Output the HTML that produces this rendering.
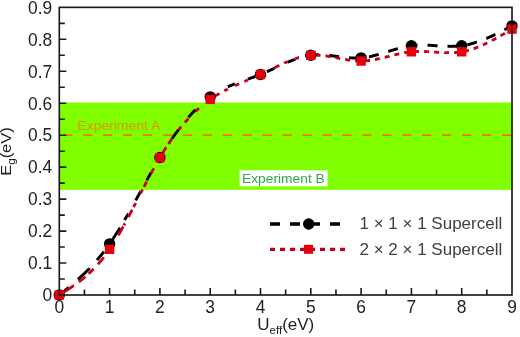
<!DOCTYPE html>
<html><head><meta charset="utf-8"><style>
html,body{margin:0;padding:0;background:#fff;}
svg{display:block;font-family:"Liberation Sans",Arial,sans-serif;}
</style></head><body>
<svg width="520" height="337" viewBox="0 0 520 337">
<rect width="520" height="337" fill="#fff"/>
<rect x="59.30" y="102.44" width="452.70" height="87.41" fill="#80ff00"/>
<line x1="59.30" y1="135.20" x2="512.00" y2="135.20" stroke="#f07800" stroke-width="1.8" stroke-dasharray="9.2 10.75" stroke-dashoffset="16.2"/>
<text x="77.2" y="129.8" font-size="13.6" fill="#e09400" transform="translate(77.2 0) scale(1.03 1) translate(-77.2 0)">Experiment A</text>
<rect x="239.5" y="170.3" width="88" height="16" fill="#ffffff"/>
<text x="242" y="183.2" font-size="13.4" fill="#33a648" transform="translate(242 0) scale(1.03 1) translate(-242 0)">Experiment B</text>
<path d="M59.3,295.0 L59.6,294.8 L59.9,294.5 L60.2,294.3 L60.5,294.0 L60.8,293.8 L61.1,293.5 L61.4,293.3 L61.7,293.0 L62.0,292.8 L62.3,292.6 L62.6,292.3 L62.9,292.1 L63.2,291.8 L63.5,291.6 L63.8,291.3 L64.1,291.1 L64.4,290.8 L64.7,290.6 L65.0,290.4 L65.3,290.1 L65.6,289.9 L65.9,289.6 L66.2,289.4 L66.5,289.1 L66.8,288.9 L67.1,288.6 L67.4,288.4 L67.8,288.1 L68.1,287.9 L68.4,287.6 L68.7,287.4 L68.8,287.3 M77.9,279.4 L78.2,279.2 L78.5,278.9 L78.8,278.6 L79.1,278.3 L79.4,278.1 L79.7,277.8 L80.0,277.5 L80.3,277.2 L80.6,277.0 L80.9,276.7 L81.2,276.4 L81.5,276.1 L81.8,275.8 L82.1,275.6 L82.4,275.3 L82.7,275.0 L83.0,274.7 L83.3,274.4 L83.6,274.1 L83.9,273.9 L84.2,273.6 L84.6,273.3 L84.9,273.0 L85.2,272.7 L85.5,272.4 L85.8,272.1 L86.1,271.8 L86.4,271.5 L86.7,271.2 L87.0,270.9 L87.3,270.6 L87.6,270.3 L87.9,270.0 L88.2,269.7 L88.5,269.4 L88.8,269.1 L89.1,268.8 L89.4,268.5 L89.6,268.2 M97.0,260.1 L97.3,259.7 L97.6,259.4 L97.9,259.0 L98.2,258.7 L98.5,258.3 L98.8,258.0 L99.1,257.6 L99.4,257.2 L99.7,256.9 L100.0,256.5 L100.3,256.1 L100.6,255.8 L100.9,255.4 L101.3,255.0 L101.6,254.6 L101.9,254.3 L102.2,253.9 L102.5,253.5 L102.8,253.1 L103.1,252.7 L103.4,252.3 L103.7,252.0 L104.0,251.6 L104.0,251.6 M112.0,240.3 L112.3,239.9 L112.6,239.4 L112.9,239.0 L113.2,238.5 L113.5,238.1 L113.8,237.6 L114.1,237.1 L114.4,236.7 L114.7,236.2 L115.0,235.7 L115.3,235.3 L115.6,234.8 L115.9,234.3 L116.2,233.8 L116.5,233.4 L116.8,232.9 L117.1,232.4 L117.4,231.9 L117.7,231.4 L118.1,230.9 L118.4,230.5 L118.7,230.0 L119.0,229.5 L119.3,229.0 L119.6,228.5 L119.9,228.0 L120.1,227.7 M124.5,220.1 L124.8,219.6 L125.1,219.1 L125.4,218.6 L125.7,218.0 L126.0,217.5 L126.3,217.0 L126.7,216.5 L127.0,215.9 L127.3,215.4 L127.6,214.9 L127.9,214.4 L128.2,213.8 L128.3,213.7 M135.7,200.4 L136.0,199.8 L136.3,199.3 L136.6,198.7 L136.9,198.2 L137.2,197.6 L137.5,197.1 L137.8,196.5 L138.1,196.0 L138.4,195.5 L138.7,194.9 L139.0,194.4 L139.3,193.8 L139.6,193.3 L139.9,192.7 L140.2,192.2 L140.5,191.6 L140.6,191.5 M146.8,180.3 L147.1,179.7 L147.4,179.2 L147.7,178.6 L148.0,178.1 L148.3,177.6 L148.6,177.0 L148.9,176.5 L149.2,176.0 L149.5,175.4 L149.8,174.9 L150.1,174.3 L150.4,173.8 L150.7,173.3 L151.0,172.8 M172.0,138.8 L172.3,138.3 L172.6,137.9 L172.9,137.5 L173.2,137.0 L173.5,136.6 L173.8,136.2 L174.1,135.7 L174.4,135.3 L174.7,134.9 L175.0,134.5 L175.3,134.0 L175.6,133.6 L175.9,133.2 L176.2,132.8 L176.5,132.4 L176.9,132.0 L177.2,131.5 L177.5,131.1 L177.8,130.7 L178.1,130.3 L178.4,129.9 L178.4,129.9 M188.4,117.4 L188.7,117.0 L189.0,116.7 L189.3,116.3 L189.6,116.0 L189.9,115.7 L190.2,115.3 L190.5,115.0 L190.8,114.6 L191.1,114.3 L191.4,114.0 L191.7,113.7 L192.0,113.3 L192.3,113.0 L192.6,112.7 L192.9,112.3 L193.2,112.0 L193.6,111.7 L193.9,111.4 L194.2,111.1 L194.5,110.8 L194.8,110.4 L195.1,110.1 L195.4,109.8 L195.5,109.7 M227.8,86.8 L228.1,86.7 L228.4,86.5 L228.7,86.4 L229.0,86.3 L229.3,86.1 L229.6,86.0 L229.9,85.9 L230.2,85.7 L230.5,85.6 L230.8,85.5 L231.1,85.4 L231.4,85.2 L231.7,85.1 L232.0,85.0 L232.3,84.9 L232.6,84.7 L232.9,84.6 L233.2,84.5 L233.5,84.4 L233.8,84.3 L234.1,84.1 L234.4,84.0 L234.7,83.9 L234.9,83.8 M248.0,79.1 L248.3,79.0 L248.6,78.9 L248.9,78.8 L249.2,78.7 L249.5,78.6 L249.8,78.5 L250.1,78.4 L250.4,78.3 L250.7,78.1 L251.0,78.0 L251.3,77.9 L251.6,77.8 L251.9,77.7 L252.3,77.6 L252.6,77.5 L252.9,77.4 L253.2,77.3 L253.5,77.2 L253.8,77.1 L254.1,77.0 L254.4,76.8 L254.7,76.7 L255.0,76.6 L255.1,76.6 M266.9,71.7 L267.2,71.6 L267.5,71.4 L267.8,71.3 L268.1,71.2 L268.4,71.0 L268.7,70.9 L269.1,70.8 L269.4,70.6 L269.7,70.5 L270.0,70.3 L270.3,70.2 L270.6,70.1 L270.9,69.9 L271.2,69.8 L271.5,69.6 L271.8,69.5 L272.1,69.4 L272.4,69.2 L272.7,69.1 L273.0,68.9 L273.3,68.8 L273.6,68.7 L273.9,68.5 L274.2,68.4 L274.5,68.2 L274.6,68.2 M287.7,62.2 L288.0,62.1 L288.3,62.0 L288.6,61.8 L288.9,61.7 L289.2,61.6 L289.5,61.5 L289.8,61.3 L290.1,61.2 L290.4,61.1 L290.7,61.0 L291.0,60.9 L291.3,60.7 L291.6,60.6 L291.9,60.5 L292.2,60.4 L292.5,60.3 L292.8,60.1 L293.1,60.0 L293.4,59.9 L293.7,59.8 L294.1,59.7 L294.4,59.6 L294.7,59.5 L294.8,59.4 M309.3,55.5 L309.6,55.5 L309.9,55.4 L310.2,55.4 L310.5,55.3 L310.8,55.3 L311.1,55.3 L311.4,55.2 L311.7,55.2 L312.0,55.2 L312.3,55.1 L312.6,55.1 L312.9,55.1 L313.2,55.0 L313.5,55.0 L313.8,55.0 L314.1,55.0 L314.4,55.0 L314.7,54.9 L315.0,54.9 L315.3,54.9 L315.6,54.9 L315.9,54.9 L316.2,54.9 L316.5,54.9 L316.8,54.9 L317.1,54.9 L317.4,54.9 L317.7,54.8 L318.0,54.8 L318.3,54.8 L318.6,54.8 L318.9,54.8 L319.2,54.8 M329.2,55.5 L329.5,55.5 L329.8,55.5 L330.1,55.6 L330.4,55.6 L330.7,55.6 L331.0,55.7 L331.3,55.7 L331.6,55.8 L331.9,55.8 L332.2,55.8 L332.5,55.9 L332.8,55.9 L333.1,55.9 L333.4,56.0 L333.7,56.0 L334.0,56.0 L334.3,56.1 L334.6,56.1 L334.9,56.2 L335.2,56.2 L335.5,56.2 L335.8,56.3 L336.2,56.3 L336.5,56.3 L336.8,56.4 L337.1,56.4 L337.4,56.5 L337.7,56.5 L338.0,56.5 L338.3,56.6 L338.6,56.6 L338.9,56.7 L339.1,56.7 M349.1,57.8 L349.4,57.8 L349.7,57.8 L350.0,57.8 L350.3,57.9 L350.6,57.9 L350.9,57.9 L351.2,57.9 L351.5,57.9 L351.8,57.9 L352.1,58.0 L352.4,58.0 L352.7,58.0 L353.0,58.0 L353.3,58.0 L353.6,58.0 L353.9,58.0 L354.2,58.0 L354.5,58.0 L354.8,58.0 L355.1,58.0 L355.4,58.0 L355.7,58.1 L356.0,58.1 L356.3,58.1 L356.6,58.0 L356.9,58.0 L357.2,58.0 L357.5,58.0 L357.8,58.0 L358.1,58.0 L358.4,58.0 L358.7,58.0 L359.0,58.0 L359.0,58.0 M369.0,56.7 L369.3,56.7 L369.6,56.6 L369.9,56.6 L370.2,56.5 L370.5,56.4 L370.8,56.4 L371.1,56.3 L371.4,56.2 L371.7,56.2 L372.0,56.1 L372.3,56.0 L372.6,56.0 L372.9,55.9 L373.2,55.8 L373.5,55.7 L373.8,55.7 L374.1,55.6 L374.4,55.5 L374.7,55.4 L375.0,55.4 L375.3,55.3 L375.6,55.2 L375.9,55.1 L376.2,55.0 L376.5,55.0 L376.8,54.9 L377.1,54.8 L377.4,54.7 L377.7,54.6 L378.1,54.5 L378.4,54.5 L378.7,54.4 L378.7,54.4 M388.3,51.5 L388.6,51.4 L388.9,51.3 L389.2,51.2 L389.5,51.1 L389.8,51.0 L390.1,50.9 L390.4,50.8 L390.7,50.7 L391.0,50.6 L391.3,50.5 L391.6,50.4 L391.9,50.3 L392.2,50.3 L392.5,50.2 L392.8,50.1 L393.1,50.0 L393.4,49.9 L393.7,49.8 L394.0,49.7 L394.3,49.6 L394.6,49.5 L394.9,49.4 L395.2,49.4 L395.5,49.3 L395.8,49.2 L396.1,49.1 L396.4,49.0 L396.7,48.9 L397.0,48.8 L397.3,48.7 L397.6,48.7 L397.8,48.6 M407.6,46.3 L407.9,46.3 L408.2,46.2 L408.5,46.1 L408.8,46.1 L409.1,46.0 L409.4,46.0 L409.7,46.0 L410.0,45.9 L410.3,45.9 L410.6,45.8 L410.9,45.8 L411.2,45.7 L411.5,45.7 L411.8,45.7 L412.1,45.6 L412.4,45.6 L412.7,45.6 L413.0,45.5 L413.3,45.5 L413.6,45.5 L413.9,45.4 L414.2,45.4 L414.5,45.4 L414.8,45.4 L415.1,45.3 L415.4,45.3 L415.7,45.3 L416.0,45.3 L416.3,45.3 L416.6,45.2 L416.9,45.2 L417.2,45.2 L417.5,45.2 M427.5,45.2 L427.8,45.2 L428.1,45.2 L428.4,45.3 L428.7,45.3 L429.0,45.3 L429.3,45.3 L429.6,45.3 L429.9,45.3 L430.2,45.3 L430.5,45.4 L430.8,45.4 L431.1,45.4 L431.4,45.4 L431.7,45.4 L432.0,45.5 L432.3,45.5 L432.6,45.5 L432.9,45.5 L433.2,45.5 L433.5,45.5 L433.8,45.6 L434.1,45.6 L434.4,45.6 L434.7,45.6 L435.0,45.6 L435.3,45.7 L435.6,45.7 L435.9,45.7 L436.2,45.7 L436.6,45.7 L436.9,45.8 L437.2,45.8 L437.5,45.8 L437.5,45.8 M447.5,46.3 L447.8,46.3 L448.1,46.3 L448.4,46.3 L448.7,46.3 L449.0,46.3 L449.3,46.3 L449.6,46.4 L449.9,46.4 L450.2,46.4 L450.5,46.4 L450.8,46.4 L451.1,46.4 L451.4,46.4 L451.7,46.4 L452.0,46.4 L452.3,46.4 L452.6,46.3 L452.9,46.3 L453.2,46.3 L453.5,46.3 L453.8,46.3 L454.1,46.3 L454.4,46.3 L454.7,46.3 L455.0,46.3 L455.3,46.3 L455.6,46.3 L455.9,46.2 L456.2,46.2 L456.5,46.2 L456.8,46.2 L457.1,46.2 L457.4,46.1 L457.4,46.1 M467.4,44.7 L467.7,44.7 L468.0,44.6 L468.3,44.5 L468.6,44.4 L468.9,44.4 L469.2,44.3 L469.5,44.2 L469.8,44.2 L470.1,44.1 L470.4,44.0 L470.7,43.9 L471.0,43.8 L471.3,43.8 L471.6,43.7 L471.9,43.6 L472.2,43.5 L472.5,43.4 L472.8,43.3 L473.1,43.3 L473.4,43.2 L473.7,43.1 L474.0,43.0 L474.3,42.9 L474.6,42.8 L474.9,42.7 L475.2,42.6 L475.5,42.5 L475.8,42.4 L476.1,42.3 L476.4,42.2 L476.7,42.1 L476.9,42.1 M486.3,38.5 L486.6,38.4 L487.0,38.2 L487.3,38.1 L487.6,38.0 L487.9,37.8 L488.2,37.7 L488.5,37.6 L488.8,37.4 L489.1,37.3 L489.4,37.2 L489.7,37.0 L490.0,36.9 L490.3,36.8 L490.6,36.6 L490.9,36.5 L491.2,36.4 L491.5,36.2 L491.8,36.1 L492.1,35.9 L492.4,35.8 L492.7,35.7 L493.0,35.5 L493.3,35.4 L493.6,35.2 L493.9,35.1 L494.2,34.9 L494.5,34.8 L494.8,34.7 L495.1,34.5 L495.4,34.4 L495.4,34.4 M504.4,29.9 L504.7,29.7 L505.0,29.5 L505.3,29.4 L505.6,29.2 L505.9,29.1 L506.2,28.9 L506.5,28.8 L506.8,28.6 L507.1,28.5 L507.4,28.3 L507.7,28.1 L508.0,28.0 L508.3,27.8 L508.6,27.7 L508.9,27.5 L509.2,27.3 L509.5,27.2 L509.8,27.0 L510.1,26.9 L510.4,26.7 L510.7,26.6 L511.0,26.4 L511.3,26.2 L511.6,26.1 L511.9,25.9 L512.0,25.9" fill="none" stroke="#000" stroke-width="2.9"/>
<path d="M64.6,291.6 L64.9,291.4 L65.2,291.2 L65.5,291.1 L65.8,290.9 L66.1,290.7 L66.4,290.5 L66.7,290.3 L67.0,290.1 L67.3,289.9 L67.6,289.7 L68.0,289.5 L68.3,289.3 L68.6,289.1 L68.9,288.9 L69.2,288.7 L69.5,288.5 L69.8,288.3 L70.1,288.1 L70.4,287.9 L70.7,287.7 L71.0,287.5 L71.3,287.3 L71.6,287.1 L71.9,286.9 L72.2,286.7 L72.5,286.5 L72.8,286.3 L73.1,286.0 L73.4,285.8 L73.7,285.6 L73.8,285.6 M78.8,281.9 L79.1,281.7 L79.4,281.5 L79.7,281.2 L80.0,281.0 L80.3,280.8 L80.6,280.5 L80.9,280.3 L81.2,280.0 L81.5,279.8 L81.8,279.6 L82.1,279.3 L82.4,279.1 L82.7,278.8 L83.0,278.6 L83.3,278.4 L83.6,278.1 L83.9,277.9 L84.2,277.6 L84.6,277.3 L84.9,277.1 L85.2,276.8 L85.4,276.7 M88.7,273.7 L89.0,273.4 L89.3,273.1 L89.6,272.8 L89.9,272.6 L90.2,272.3 L90.5,272.0 L90.8,271.7 L91.1,271.4 L91.4,271.1 L91.7,270.8 L92.0,270.5 L92.3,270.2 L92.6,269.9 L93.0,269.6 L93.3,269.3 L93.6,269.0 L93.7,268.9 M97.9,264.3 L98.2,264.0 L98.5,263.7 L98.8,263.3 L99.1,263.0 L99.4,262.6 L99.7,262.3 L100.0,261.9 L100.3,261.5 L100.6,261.2 L100.9,260.8 L101.3,260.5 L101.6,260.1 L101.9,259.7 L102.2,259.4 L102.5,259.0 L102.8,258.6 L103.1,258.2 L103.4,257.8 L103.7,257.4 L103.7,257.4 M118.3,235.4 L118.6,234.9 L118.9,234.3 L119.2,233.8 L119.5,233.3 L119.8,232.8 L120.1,232.2 L120.4,231.7 L120.7,231.2 L121.0,230.6 L121.3,230.1 L121.6,229.6 L121.9,229.0 L122.2,228.5 L122.5,227.9 L122.8,227.4 L123.1,226.8 L123.3,226.6 M123.9,225.4 L124.2,224.8 L124.5,224.3 L124.8,223.7 L125.0,223.4 M128.3,217.2 L128.6,216.6 L128.9,216.1 L129.2,215.5 L129.5,214.9 L129.8,214.4 L130.1,213.8 L130.4,213.2 L130.7,212.6 L131.0,212.0 L131.3,211.5 L131.6,210.9 L131.9,210.3 L132.2,209.8 M133.6,207.0 L133.9,206.4 L134.2,205.8 L134.5,205.2 L134.9,204.6 L135.2,204.1 L135.5,203.5 L135.7,203.1 M140.6,193.4 L140.9,192.8 L141.2,192.2 L141.5,191.6 L141.8,191.0 L142.1,190.4 L142.4,189.8 L142.6,189.5 M144.0,186.8 L144.3,186.2 L144.6,185.6 L144.9,185.1 L145.2,184.5 L145.5,183.9 L145.8,183.3 L146.1,182.7 L146.4,182.1 L146.7,181.6 L146.8,181.5 M151.0,173.4 L151.3,172.8 L151.7,172.3 L152.0,171.7 L152.3,171.1 L152.6,170.6 L152.9,170.0 L153.2,169.5 L153.5,168.9 L153.8,168.4 L153.8,168.4 M162.7,152.9 L163.0,152.4 L163.3,151.9 L163.6,151.4 L163.9,151.0 L164.2,150.5 L164.5,150.0 L164.8,149.5 L165.1,149.0 L165.4,148.6 L165.7,148.1 L166.0,147.6 L166.3,147.3 M168.4,144.0 L168.7,143.6 L169.0,143.2 L169.3,142.7 L169.6,142.3 L169.9,141.8 L170.2,141.4 L170.5,140.9 L170.8,140.5 L171.1,140.1 L171.4,139.7 L171.7,139.2 L172.0,138.9 M178.4,130.2 L178.7,129.9 L179.0,129.5 L179.3,129.1 L179.6,128.7 L179.9,128.3 L180.2,128.0 L180.5,127.6 L180.8,127.2 L181.1,126.9 L181.2,126.8 M184.8,122.5 L185.2,122.1 L185.5,121.8 L185.8,121.5 L186.1,121.1 L186.4,120.8 L186.7,120.4 L187.0,120.1 L187.3,119.8 L187.6,119.5 L187.9,119.1 L188.2,118.8 L188.4,118.6 M195.5,111.4 L195.8,111.1 L196.1,110.8 L196.4,110.6 L196.7,110.3 L197.0,110.0 L197.3,109.7 L197.6,109.5 L197.9,109.2 L198.2,108.9 L198.5,108.6 L198.8,108.4 L199.0,108.2 M215.5,95.9 L215.8,95.7 L216.1,95.5 L216.4,95.3 L216.7,95.1 L217.0,94.9 L217.3,94.8 L217.6,94.6 L217.9,94.4 L218.2,94.2 L218.5,94.0 L218.9,93.9 L219.2,93.7 L219.5,93.5 L219.5,93.5 M224.3,90.8 L224.6,90.6 L224.9,90.5 L225.2,90.3 L225.5,90.2 L225.8,90.0 L226.1,89.9 L226.4,89.7 L226.7,89.6 L227.1,89.4 L227.4,89.2 L227.7,89.1 L227.8,89.0 M234.9,85.6 L235.2,85.5 L235.6,85.3 L235.9,85.2 L236.2,85.1 L236.5,84.9 L236.8,84.8 L237.1,84.7 L237.4,84.5 L237.7,84.4 L238.0,84.3 L238.3,84.1 L238.6,84.0 L238.9,83.9 L239.1,83.8 M244.4,81.5 L244.7,81.4 L245.0,81.2 L245.3,81.1 L245.6,81.0 L245.9,80.8 L246.2,80.7 L246.5,80.6 L246.8,80.5 L247.1,80.3 L247.4,80.2 L247.7,80.1 L248.0,80.0 M274.6,67.6 L274.9,67.5 L275.2,67.4 L275.5,67.2 L275.8,67.1 L276.1,66.9 L276.4,66.8 L276.7,66.6 L277.0,66.5 L277.4,66.3 L277.7,66.2 L278.0,66.0 L278.3,65.9 L278.6,65.8 L278.9,65.6 L279.2,65.5 L279.4,65.4 M284.1,63.2 L284.4,63.0 L284.7,62.9 L285.0,62.8 L285.3,62.6 L285.6,62.5 L286.0,62.4 L286.3,62.2 L286.6,62.1 L286.9,62.0 L287.2,61.9 L287.5,61.7 L287.7,61.6 M294.8,58.9 L295.1,58.8 L295.4,58.7 L295.7,58.6 L296.0,58.5 L296.3,58.4 L296.6,58.3 L296.9,58.2 L297.2,58.1 L297.5,58.0 L297.8,57.9 L298.1,57.8 L298.4,57.7 L298.7,57.6 L299.0,57.6 M305.6,56.0 L305.9,55.9 L306.2,55.9 L306.5,55.8 L306.8,55.8 L307.1,55.7 L307.4,55.7 L307.7,55.7 L308.0,55.6 L308.3,55.6 L308.6,55.5 L308.9,55.5 L309.2,55.5 L309.5,55.4 L309.8,55.4 L310.1,55.4 L310.4,55.3 L310.5,55.3 M315.5,55.1 L315.8,55.1 L316.1,55.1 L316.4,55.1 L316.7,55.1 L317.0,55.2 L317.3,55.2 L317.6,55.2 L317.9,55.2 L318.2,55.2 L318.5,55.2 L318.8,55.2 L319.1,55.3 L319.5,55.3 L319.8,55.3 L320.1,55.3 L320.4,55.3 L320.5,55.3 M325.5,55.9 L325.8,55.9 L326.1,56.0 L326.4,56.0 L326.7,56.1 L327.0,56.1 L327.3,56.2 L327.6,56.2 L327.9,56.3 L328.2,56.3 L328.5,56.4 L328.8,56.4 L329.1,56.5 L329.4,56.5 L329.7,56.6 L330.0,56.6 L330.3,56.7 L330.4,56.7 M335.3,57.6 L335.6,57.6 L335.9,57.7 L336.3,57.8 L336.6,57.8 L336.9,57.9 L337.2,57.9 L337.5,58.0 L337.8,58.1 L338.1,58.1 L338.4,58.2 L338.7,58.2 L339.0,58.3 L339.3,58.4 L339.6,58.4 L339.9,58.5 L340.2,58.5 L340.2,58.5 M345.2,59.5 L345.5,59.5 L345.8,59.6 L346.1,59.6 L346.4,59.7 L346.7,59.7 L347.0,59.8 L347.3,59.8 L347.6,59.9 L347.9,59.9 L348.2,60.0 L348.5,60.0 L348.8,60.1 L349.1,60.1 L349.4,60.1 L349.7,60.2 L350.0,60.2 L350.1,60.2 M355.1,60.8 L355.4,60.8 L355.7,60.9 L356.0,60.9 L356.3,60.9 L356.6,60.9 L356.9,60.9 L357.2,61.0 L357.5,61.0 L357.8,61.0 L358.1,61.0 L358.4,61.0 L358.7,61.0 L359.0,61.0 L359.3,61.0 L359.6,61.0 L359.9,61.1 L360.0,61.1 M365.1,60.9 L365.4,60.9 L365.7,60.8 L366.0,60.8 L366.3,60.8 L366.6,60.8 L366.9,60.7 L367.2,60.7 L367.5,60.7 L367.8,60.6 L368.1,60.6 L368.4,60.6 L368.7,60.5 L369.0,60.5 L369.3,60.5 L369.6,60.4 L369.9,60.4 L370.0,60.4 M375.0,59.5 L375.3,59.5 L375.6,59.4 L375.9,59.4 L376.2,59.3 L376.5,59.2 L376.8,59.2 L377.1,59.1 L377.4,59.0 L377.7,59.0 L378.0,58.9 L378.3,58.8 L378.6,58.8 L378.9,58.7 L379.2,58.6 L379.5,58.6 L379.8,58.5 L379.8,58.5 M384.7,57.3 L385.0,57.3 L385.3,57.2 L385.6,57.1 L385.9,57.0 L386.2,57.0 L386.6,56.9 L386.9,56.8 L387.2,56.7 L387.5,56.7 L387.8,56.6 L388.1,56.5 L388.4,56.4 L388.7,56.4 L389.0,56.3 L389.3,56.2 L389.5,56.1 M394.4,54.9 L394.8,54.8 L395.1,54.8 L395.4,54.7 L395.7,54.6 L396.0,54.5 L396.3,54.5 L396.6,54.4 L396.9,54.3 L397.2,54.3 L397.5,54.2 L397.8,54.1 L398.1,54.1 L398.4,54.0 L398.7,53.9 L399.0,53.8 L399.2,53.8 M404.2,52.8 L404.5,52.7 L404.8,52.7 L405.1,52.6 L405.4,52.6 L405.7,52.5 L406.0,52.5 L406.3,52.4 L406.6,52.4 L406.9,52.3 L407.2,52.3 L407.5,52.3 L407.8,52.2 L408.1,52.2 L408.4,52.1 L408.7,52.1 L409.0,52.0 L409.1,52.0 M414.1,51.6 L414.4,51.6 L414.7,51.5 L415.0,51.5 L415.3,51.5 L415.6,51.5 L415.9,51.5 L416.2,51.5 L416.5,51.5 L416.8,51.5 L417.1,51.5 L417.4,51.4 L417.7,51.4 L418.0,51.4 L418.3,51.4 L418.6,51.4 L418.9,51.4 L419.0,51.4 M424.1,51.5 L424.4,51.5 L424.7,51.5 L425.0,51.5 L425.3,51.6 L425.6,51.6 L425.9,51.6 L426.2,51.6 L426.5,51.6 L426.8,51.6 L427.1,51.6 L427.4,51.7 L427.7,51.7 L428.0,51.7 L428.4,51.7 L428.7,51.7 L429.0,51.7 L429.1,51.7 M434.1,52.1 L434.4,52.1 L434.7,52.1 L435.0,52.1 L435.3,52.2 L435.6,52.2 L435.9,52.2 L436.2,52.2 L436.5,52.2 L436.8,52.3 L437.1,52.3 L437.4,52.3 L437.7,52.3 L438.0,52.3 L438.3,52.3 L438.6,52.4 L438.9,52.4 L439.0,52.4 M444.1,52.6 L444.4,52.7 L444.7,52.7 L445.0,52.7 L445.3,52.7 L445.6,52.7 L445.9,52.7 L446.2,52.7 L446.5,52.7 L446.8,52.7 L447.1,52.7 L447.4,52.7 L447.7,52.7 L448.0,52.7 L448.3,52.7 L448.6,52.7 L448.9,52.7 L449.0,52.7 M454.1,52.6 L454.4,52.6 L454.7,52.6 L455.0,52.6 L455.3,52.5 L455.6,52.5 L455.9,52.5 L456.2,52.5 L456.5,52.4 L456.8,52.4 L457.1,52.4 L457.4,52.4 L457.7,52.3 L458.0,52.3 L458.3,52.3 L458.6,52.2 L458.9,52.2 L459.0,52.2 M464.0,51.4 L464.3,51.3 L464.6,51.2 L464.9,51.2 L465.2,51.1 L465.5,51.0 L465.8,51.0 L466.1,50.9 L466.4,50.8 L466.7,50.8 L467.0,50.7 L467.3,50.6 L467.6,50.5 L467.9,50.4 L468.2,50.4 L468.5,50.3 L468.8,50.2 L468.8,50.2 M473.6,48.7 L473.9,48.6 L474.2,48.5 L474.5,48.4 L474.8,48.3 L475.1,48.2 L475.4,48.0 L475.7,47.9 L476.0,47.8 L476.3,47.7 L476.6,47.6 L476.9,47.5 L477.2,47.4 L477.5,47.2 L477.8,47.1 L478.1,47.0 L478.2,47.0 M482.9,45.0 L483.2,44.9 L483.5,44.7 L483.8,44.6 L484.1,44.4 L484.4,44.3 L484.7,44.2 L485.0,44.0 L485.3,43.9 L485.6,43.7 L485.9,43.6 L486.2,43.4 L486.5,43.3 L486.8,43.1 L487.1,43.0 L487.4,42.9 M491.9,40.6 L492.2,40.4 L492.5,40.3 L492.8,40.1 L493.1,39.9 L493.4,39.8 L493.7,39.6 L494.0,39.5 L494.3,39.3 L494.6,39.1 L494.9,39.0 L495.2,38.8 L495.5,38.6 L495.8,38.5 L496.1,38.3 L496.3,38.2 M500.6,35.8 L500.9,35.6 L501.2,35.4 L501.5,35.2 L501.8,35.1 L502.1,34.9 L502.4,34.7 L502.7,34.5 L503.0,34.4 L503.3,34.2 L503.7,34.0 L504.0,33.8 L504.3,33.7 L504.6,33.5 L504.9,33.3 L504.9,33.3 M509.3,30.7 L509.6,30.5 L509.9,30.3 L510.2,30.2 L510.5,30.0 L510.8,29.8 L511.1,29.6 L511.4,29.5 L511.7,29.3 L512.0,29.1 L512.0,29.1" fill="none" stroke="#c8001c" stroke-width="2.8"/>
<circle cx="59.30" cy="295.00" r="5.7" fill="#000"/>
<circle cx="109.60" cy="243.86" r="5.7" fill="#000"/>
<circle cx="159.90" cy="157.57" r="5.7" fill="#000"/>
<circle cx="210.20" cy="96.85" r="5.7" fill="#000"/>
<circle cx="260.50" cy="74.48" r="5.7" fill="#000"/>
<circle cx="310.80" cy="55.30" r="5.7" fill="#000"/>
<circle cx="361.10" cy="57.86" r="5.7" fill="#000"/>
<circle cx="411.40" cy="45.71" r="5.7" fill="#000"/>
<circle cx="461.70" cy="45.71" r="5.7" fill="#000"/>
<circle cx="512.00" cy="25.90" r="5.7" fill="#000"/>
<rect x="54.60" y="290.30" width="9.4" height="9.4" fill="#e8000c"/>
<rect x="104.90" y="244.60" width="9.4" height="9.4" fill="#e8000c"/>
<rect x="155.20" y="152.87" width="9.4" height="9.4" fill="#e8000c"/>
<rect x="205.50" y="94.70" width="9.4" height="9.4" fill="#e8000c"/>
<rect x="255.80" y="69.78" width="9.4" height="9.4" fill="#e8000c"/>
<rect x="306.10" y="50.60" width="9.4" height="9.4" fill="#e8000c"/>
<rect x="356.40" y="56.35" width="9.4" height="9.4" fill="#e8000c"/>
<rect x="406.70" y="47.08" width="9.4" height="9.4" fill="#e8000c"/>
<rect x="457.00" y="47.08" width="9.4" height="9.4" fill="#e8000c"/>
<rect x="507.30" y="24.39" width="9.4" height="9.4" fill="#e8000c"/>
<path d="M59.30,279.02h5.5 M59.30,263.04h7 M59.30,247.06h5.5 M59.30,231.08h7 M59.30,215.10h5.5 M59.30,199.12h7 M59.30,183.14h5.5 M59.30,167.16h7 M59.30,151.18h5.5 M59.30,135.20h7 M59.30,119.22h5.5 M59.30,103.24h7 M59.30,87.26h5.5 M59.30,71.28h7 M59.30,55.30h5.5 M59.30,39.32h7 M59.30,23.34h5.5 M84.45,295.00v-5.5 M109.60,295.00v-7 M134.75,295.00v-5.5 M159.90,295.00v-7 M185.05,295.00v-5.5 M210.20,295.00v-7 M235.35,295.00v-5.5 M260.50,295.00v-7 M285.65,295.00v-5.5 M310.80,295.00v-7 M335.95,295.00v-5.5 M361.10,295.00v-7 M386.25,295.00v-5.5 M411.40,295.00v-7 M436.55,295.00v-5.5 M461.70,295.00v-7 M486.85,295.00v-5.5" stroke="#1a1a1a" stroke-width="1.6" fill="none"/>
<rect x="59.30" y="7.36" width="452.70" height="287.64" fill="none" stroke="#1a1a1a" stroke-width="1.65"/>
<text x="0" y="301.30" font-size="18" text-anchor="end" fill="#222" transform="translate(52.2 0) scale(0.965 1)">0</text>
<text x="0" y="269.34" font-size="18" text-anchor="end" fill="#222" transform="translate(52.2 0) scale(0.965 1)">0.1</text>
<text x="0" y="237.38" font-size="18" text-anchor="end" fill="#222" transform="translate(52.2 0) scale(0.965 1)">0.2</text>
<text x="0" y="205.42" font-size="18" text-anchor="end" fill="#222" transform="translate(52.2 0) scale(0.965 1)">0.3</text>
<text x="0" y="173.46" font-size="18" text-anchor="end" fill="#222" transform="translate(52.2 0) scale(0.965 1)">0.4</text>
<text x="0" y="141.50" font-size="18" text-anchor="end" fill="#222" transform="translate(52.2 0) scale(0.965 1)">0.5</text>
<text x="0" y="109.54" font-size="18" text-anchor="end" fill="#222" transform="translate(52.2 0) scale(0.965 1)">0.6</text>
<text x="0" y="77.58" font-size="18" text-anchor="end" fill="#222" transform="translate(52.2 0) scale(0.965 1)">0.7</text>
<text x="0" y="45.62" font-size="18" text-anchor="end" fill="#222" transform="translate(52.2 0) scale(0.965 1)">0.8</text>
<text x="0" y="13.66" font-size="18" text-anchor="end" fill="#222" transform="translate(52.2 0) scale(0.965 1)">0.9</text>
<text x="0" y="313.3" font-size="18" text-anchor="middle" fill="#222" transform="translate(59.30 0) scale(0.965 1)">0</text>
<text x="0" y="313.3" font-size="18" text-anchor="middle" fill="#222" transform="translate(109.60 0) scale(0.965 1)">1</text>
<text x="0" y="313.3" font-size="18" text-anchor="middle" fill="#222" transform="translate(159.90 0) scale(0.965 1)">2</text>
<text x="0" y="313.3" font-size="18" text-anchor="middle" fill="#222" transform="translate(210.20 0) scale(0.965 1)">3</text>
<text x="0" y="313.3" font-size="18" text-anchor="middle" fill="#222" transform="translate(260.50 0) scale(0.965 1)">4</text>
<text x="0" y="313.3" font-size="18" text-anchor="middle" fill="#222" transform="translate(310.80 0) scale(0.965 1)">5</text>
<text x="0" y="313.3" font-size="18" text-anchor="middle" fill="#222" transform="translate(361.10 0) scale(0.965 1)">6</text>
<text x="0" y="313.3" font-size="18" text-anchor="middle" fill="#222" transform="translate(411.40 0) scale(0.965 1)">7</text>
<text x="0" y="313.3" font-size="18" text-anchor="middle" fill="#222" transform="translate(461.70 0) scale(0.965 1)">8</text>
<text x="0" y="313.3" font-size="18" text-anchor="middle" fill="#222" transform="translate(512.00 0) scale(0.965 1)">9</text>
<text x="257.3" y="329.6" font-size="17" fill="#222">U<tspan font-size="11.5" dy="4">eff</tspan><tspan dy="-4">(eV)</tspan></text>
<text transform="translate(11.3 175.8) rotate(-90) scale(1.1 1)" font-size="15" fill="#222">E<tspan font-size="10.5" dy="4">g</tspan><tspan dy="-4">(eV)</tspan></text>
<line x1="270" y1="224" x2="340" y2="224" stroke="#000" stroke-width="3.4" stroke-dasharray="10 10"/>
<circle cx="308.7" cy="224" r="5.7" fill="#000"/>
<line x1="270" y1="249.3" x2="345" y2="249.3" stroke="#c0001c" stroke-width="3.2" stroke-dasharray="5 5"/>
<rect x="304" y="244.8" width="9" height="9" fill="#e8000c"/>
<text x="359.5" y="229" font-size="17" fill="#404040">1 × 1 × 1 Supercell</text>
<text x="359.5" y="255" font-size="17" fill="#404040">2 × 2 × 1 Supercell</text>
</svg>
</body></html>
